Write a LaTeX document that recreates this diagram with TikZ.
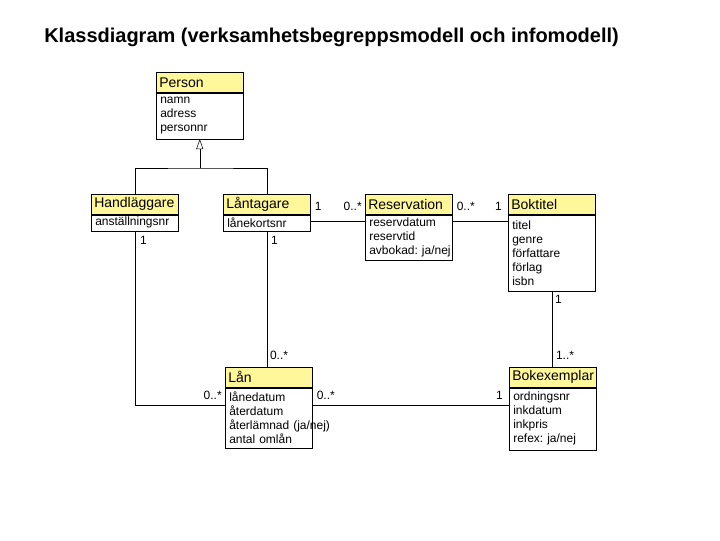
\documentclass[tikz,border=0pt]{standalone}
\usepackage{fontspec}
\setmainfont{Liberation Sans}
\usepackage{tikz}
\usetikzlibrary{arrows.meta}
\definecolor{clsyellow}{RGB}{255,247,153}

\begin{document}
\begin{tikzpicture}[x=0.75pt, y=-0.75pt, >=latex]
    \tikzset{
      clshead/.style={draw, fill=clsyellow, anchor=north west, minimum height=15pt,
        text width=60.75pt, inner xsep=2.25pt, inner ysep=0pt, align=left,
        font=\fontsize{10.5}{12}\selectfont},
      clsbody/.style={draw, fill=white, anchor=north west, text width=59.25pt,
        inner xsep=3pt, inner ysep=1.5pt, align=left, font=\fontsize{9}{10.5}\selectfont},
      mult/.style={inner sep=0pt, font=\fontsize{9}{10}\selectfont},
      gen/.style={-{Triangle[open, width=5.25pt, length=7.5pt]}}
    }
    \useasboundingbox (0,0) rectangle (720,540);

    \node[anchor=west, inner sep=0pt, font=\bfseries\fontsize{15}{17}\selectfont] (title) at (44,37)
      {Klassdiagram (verksamhetsbegreppsmodell och infomodell)};

    % klasser
    \node[clshead] (persh) at (156,72) {Person};
    \node[clsbody, minimum height=34.5pt] (persb) at (persh.south west) {namn\\adress\\personnr};

    \node[clshead] (handh) at (91,194) {Handläggare};
    \node[clsbody, minimum height=12pt] (handb) at (handh.south west) {anställningsnr};

    \node[clshead] (lanth) at (223,194) {Låntagare};
    \node[clsbody, minimum height=12pt] (lantb) at (lanth.south west) {lånekortsnr};

    \node[clshead] (resh) at (365,194) {Reservation};
    \node[clsbody, minimum height=33.75pt] (resb) at (resh.south west) {reservdatum\\reservtid\\avbokad:~ja/nej};

    \node[clshead] (bokh) at (508,194) {Boktitel};
    \node[clsbody, minimum height=57pt] (bokb) at (bokh.south west) {titel\\genre\\författare\\förlag\\isbn};

    \node[clshead] (lanh) at (225,367) {Lån};
    \node[clsbody, minimum height=45pt] (lanb) at (lanh.south west) {lånedatum\\återdatum\\återlämnad~(ja/nej)\\antal~omlån};

    \node[clshead] (bexh) at (509,367) {Bokexemplar};
    \node[clsbody, minimum height=46.5pt] (bexb) at (bexh.south west) {ordningsnr\\inkdatum\\inkpris\\refex:~ja/nej};

    % arv
    \coordinate (genrow) at (0,168);
    \coordinate (genjoin) at (persb.south |- genrow);
    \draw (handh.north) |- (genjoin) -| (lanth.north);
    \draw[gen] (genjoin) -- (persb.south);

    % associationer
    \coordinate (resrow) at (0,221);
    \coordinate (lanrow) at (0,405);
    \draw (lantb.east |- resrow) -- (resb.west |- resrow)
      node[mult, pos=0, anchor=south west, shift={(4,-10)}] (m1) {1}
      node[mult, pos=1, anchor=south east, shift={(-3,-10)}] (m2) {0..*};
    \draw (resb.east |- resrow) -- (bokb.west |- resrow)
      node[mult, pos=0, anchor=south west, shift={(4,-10)}] (m3) {0..*}
      node[mult, pos=1, anchor=south east, shift={(-6,-10)}] (m4) {1};
    \draw (bokb.south) -- (bokb.south |- bexh.north)
      node[mult, pos=0, anchor=north west, shift={(3,4)}] (m5) {1}
      node[mult, pos=1, anchor=south west, shift={(4,-7)}] (m6) {1..*};
    \draw (lantb.south) -- (lantb.south |- lanh.north)
      node[mult, pos=0, anchor=north west, shift={(4,5)}] (m7) {1}
      node[mult, pos=1, anchor=south west, shift={(3,-7)}] (m8) {0..*};
    \draw (handb.south) |- (lanb.west |- lanrow)
      node[mult, pos=0, anchor=north west, shift={(5,5)}] (m9) {1}
      node[mult, pos=1, anchor=south east, shift={(-3,-5)}] (m10) {0..*};
    \draw (lanb.east |- lanrow) -- (bexb.west |- lanrow)
      node[mult, pos=0, anchor=south west, shift={(4,-5)}] (m11) {0..*}
      node[mult, pos=1, anchor=south east, shift={(-6,-5)}] (m12) {1};
\end{tikzpicture}
\end{document}
